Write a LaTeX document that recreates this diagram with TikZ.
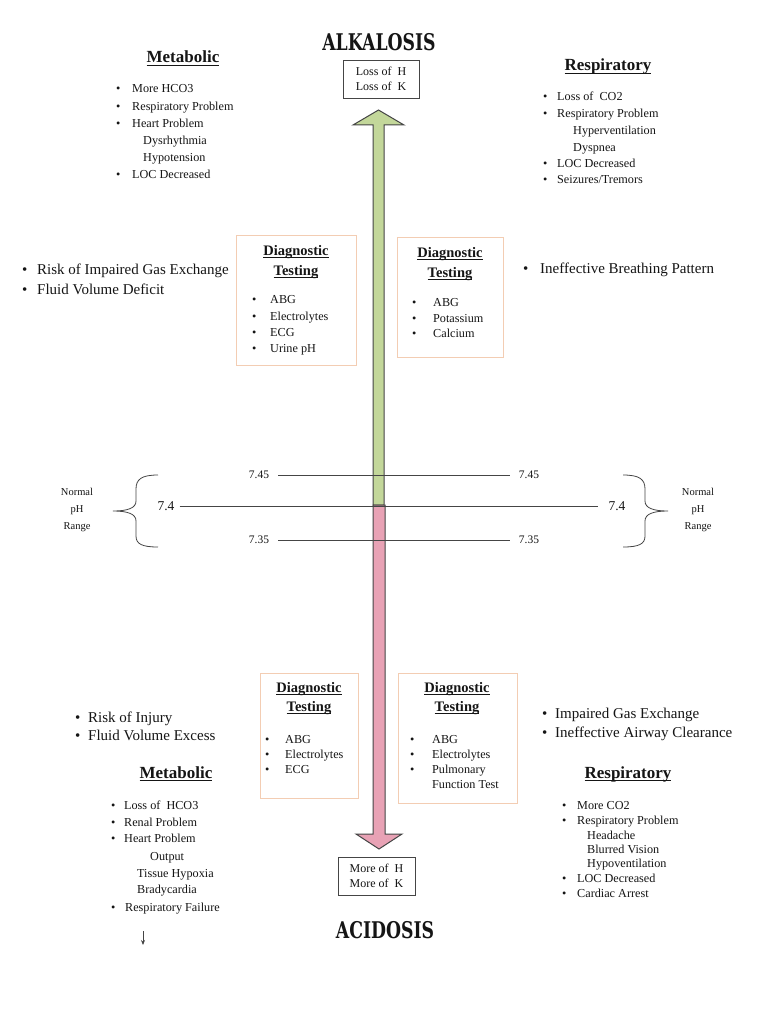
\documentclass[tikz,border=0pt]{standalone}
\usepackage{fontspec}
\setmainfont{Liberation Serif}
\newfontfamily\slabfont{DejaVu Serif}
\usetikzlibrary{arrows.meta}
\definecolor{ink}{HTML}{151515}
\definecolor{peach}{HTML}{F3CDB3}
\definecolor{agreen}{HTML}{C3D79A}
\definecolor{apink}{HTML}{E8A2B5}
\definecolor{edge}{HTML}{454545}
\newcommand\bl[1]{\makebox[#1][l]{\textbullet}}
\newcommand\thul[1]{\setbox0\hbox{#1}\rlap{\rule[-2.6pt]{\wd0}{0.9pt}}\box0}
\tikzset{
  every node/.style={inner sep=0pt, text=ink},
  lst/.style={anchor=base west, font=\fontsize{12.2}{14}\selectfont},
  lstbig/.style={anchor=base west, font=\fontsize{15}{17}\selectfont},
  ttl/.style={anchor=base, font=\fontsize{17}{20}\selectfont\bfseries},
  dttl/.style={anchor=base, font=\fontsize{14.5}{17}\selectfont\bfseries},
  dbox/.style={draw=peach, line width=0.8pt},
  hbox/.style={draw=edge, line width=0.9pt, align=center, font=\fontsize{12}{15}\selectfont},
  phlab/.style={font=\fontsize{11.5}{13}\selectfont},
  phmid/.style={font=\fontsize{13.5}{15}\selectfont},
  phline/.style={draw=edge, line width=0.8pt},
  nrm/.style={align=center, font=\fontsize{10.5}{17}\selectfont},
  bigword/.style={anchor=base, font=\slabfont\bfseries\fontsize{23}{26}\selectfont},
  shaft/.style={draw=edge, line width=1pt, line join=miter}
}
\begin{document}
\begin{tikzpicture}[x=1pt,y=-1pt]
\useasboundingbox (0,0) rectangle (768,1024);
\fill[white] (0,0) rectangle (768,1024);

% arrows
\filldraw[shaft, fill=agreen] (373,505) -- (373,125) -- (353,125) -- (378.5,110) -- (404,125) -- (384,125) -- (384,505) -- cycle;
\filldraw[shaft, fill=apink] (373,505) -- (373,834) -- (356,834) -- (379,849) -- (402,834) -- (385,834) -- (385,505) -- cycle;

% headings
\node[bigword] (alk) at (379,50.5) {\scalebox{0.75}[1]{ALKALOSIS}};
\node[bigword] (acid) at (385,938.5) {\scalebox{0.75}[1]{ACIDOSIS}};
\node[hbox, minimum width=76pt, minimum height=38pt] (loss) at (381,79) {Loss of\ \ H\\Loss of\ \ K};
\node[hbox, minimum width=77pt, minimum height=38pt] (more) at (376.5,876) {More of\ \ H\\More of\ \ K};

% top-left metabolic
\node[ttl] (mt1) at (183,63) {\thul{Metabolic}};
\node[lst] (ma1) at (116,93) {\bl{16pt}More HCO3};
\node[lst] (ma2) at (116,111) {\bl{16pt}Respiratory Problem};
\node[lst] (ma3) at (116,128) {\bl{16pt}Heart Problem};
\node[lst] (ma4) at (143,145) {Dysrhythmia};
\node[lst] (ma5) at (143,162) {Hypotension};
\node[lst] (ma6) at (116,179) {\bl{16pt}LOC Decreased};

% top-right respiratory
\node[ttl] (rt1) at (608,71) {\thul{Respiratory}};
\node[lst] (ra1) at (543,101) {\bl{14pt}Loss of\ \ CO2};
\node[lst] (ra2) at (543,118) {\bl{14pt}Respiratory Problem};
\node[lst] (ra3) at (573,135) {Hyperventilation};
\node[lst] (ra4) at (573,152) {Dyspnea};
\node[lst] (ra5) at (543,168) {\bl{14pt}LOC Decreased};
\node[lst] (ra6) at (543,184) {\bl{14pt}Seizures/Tremors};

% top nursing
\node[lstbig] (na1) at (22,274) {\bl{15pt}Risk of Impaired Gas Exchange};
\node[lstbig] (na2) at (22,294) {\bl{15pt}Fluid Volume Deficit};
\node[lstbig] (nb1) at (523,273) {\bl{17pt}Ineffective Breathing Pattern};

% top diagnostic boxes
\node[dbox, minimum width=120pt, minimum height=130pt] (d1) at (296,300) {};
\node[dttl] (d1t1) at (296,255) {\thul{Diagnostic}};
\node[dttl] (d1t2) at (296,275) {\thul{Testing}};
\node[lst] (d1a) at (252,303) {\bl{18pt}ABG};
\node[lst] (d1b) at (252,320) {\bl{18pt}Electrolytes};
\node[lst] (d1c) at (252,336) {\bl{18pt}ECG};
\node[lst] (d1d) at (252,352) {\bl{18pt}Urine pH};

\node[dbox, minimum width=106pt, minimum height=120pt] (d2) at (450,297) {};
\node[dttl] (d2t1) at (450,257) {\thul{Diagnostic}};
\node[dttl] (d2t2) at (450,277) {\thul{Testing}};
\node[lst] (d2a) at (412,306) {\bl{21pt}ABG};
\node[lst] (d2b) at (412,322) {\bl{21pt}Potassium};
\node[lst] (d2c) at (412,337) {\bl{21pt}Calcium};

% pH scale
\node[phlab] (l745) at (259,475) {7.45};
\node[phlab] (r745) at (529,475) {7.45};
\node[phmid] (l74) at (166,506) {7.4};
\node[phmid] (r74) at (617,506) {7.4};
\node[phlab] (l735) at (259,540) {7.35};
\node[phlab] (r735) at (529,540) {7.35};
\draw[phline, shorten <=9pt, shorten >=9pt] (l745) -- (r745);
\draw[phline, shorten <=5pt, shorten >=10pt] (l74) -- (r74);
\draw[phline, shorten <=9pt, shorten >=9pt] (l735) -- (r735);
\draw[phline] (158,475) .. controls (142,475) and (136,479) .. (136,489) -- (136,501) .. controls (136,508) and (128,511) .. (113,511) .. controls (128,511) and (136,514) .. (136,521) -- (136,536) .. controls (136,544) and (142,547) .. (158,547);
\draw[phline] (623,475) .. controls (639,475) and (645,479) .. (645,489) -- (645,501) .. controls (645,508) and (653,511) .. (668,511) .. controls (653,511) and (645,514) .. (645,521) -- (645,536) .. controls (645,544) and (639,547) .. (623,547);
\node[nrm] (nl) at (77,510) {Normal\\pH\\Range};
\node[nrm] (nr) at (698,510) {Normal\\pH\\Range};

% bottom diagnostic boxes
\node[dbox, minimum width=98pt, minimum height=125pt] (d3) at (309,735.5) {};
\node[dttl] (d3t1) at (309,692) {\thul{Diagnostic}};
\node[dttl] (d3t2) at (309,711) {\thul{Testing}};
\node[lst] (d3a) at (265,743) {\bl{20pt}ABG};
\node[lst] (d3b) at (265,758) {\bl{20pt}Electrolytes};
\node[lst] (d3c) at (265,773) {\bl{20pt}ECG};

\node[dbox, minimum width=119pt, minimum height=130pt] (d4) at (457.5,738) {};
\node[dttl] (d4t1) at (457,692) {\thul{Diagnostic}};
\node[dttl] (d4t2) at (457,711) {\thul{Testing}};
\node[lst] (d4a) at (410,743) {\bl{22pt}ABG};
\node[lst] (d4b) at (410,758) {\bl{22pt}Electrolytes};
\node[lst] (d4c) at (410,773) {\bl{22pt}Pulmonary};
\node[lst] (d4d) at (432,788) {Function Test};

% bottom nursing
\node[lstbig] (nc1) at (75,722) {\bl{13pt}Risk of Injury};
\node[lstbig] (nc2) at (75,740) {\bl{13pt}Fluid Volume Excess};
\node[lstbig] (nd1) at (542,718) {\bl{13pt}Impaired Gas Exchange};
\node[lstbig] (nd2) at (542,737) {\bl{13pt}Ineffective Airway Clearance};

% bottom-left metabolic
\node[ttl] (mt2) at (176,778) {\thul{Metabolic}};
\node[lst] (mb1) at (111,809) {\bl{13pt}Loss of\ \ HCO3};
\node[lst] (mb2) at (111,826) {\bl{13pt}Renal Problem};
\node[lst] (mb3) at (111,842) {\bl{13pt}Heart Problem};
\node[lst] (mb4) at (150,860) {Output};
\node[lst] (mb5) at (137,877) {Tissue Hypoxia};
\node[lst] (mb6) at (137,893) {Bradycardia};
\node[lst] (mb7) at (111,911) {\bl{14pt}Respiratory Failure};
\coordinate (dn1) at (143,931);
\coordinate (dn2) at (143,945);
\draw[edge, line width=0.9pt, -{Stealth[length=5pt,width=4pt]}] (dn1) -- (dn2);

% bottom-right respiratory
\node[ttl] (rt2) at (628,778) {\thul{Respiratory}};
\node[lst] (rb1) at (562,809) {\bl{15pt}More CO2};
\node[lst] (rb2) at (562,824) {\bl{15pt}Respiratory Problem};
\node[lst] (rb3) at (587,839) {Headache};
\node[lst] (rb4) at (587,853) {Blurred Vision};
\node[lst] (rb5) at (587,867) {Hypoventilation};
\node[lst] (rb6) at (562,882) {\bl{15pt}LOC Decreased};
\node[lst] (rb7) at (562,897) {\bl{15pt}Cardiac Arrest};
\end{tikzpicture}
\end{document}
